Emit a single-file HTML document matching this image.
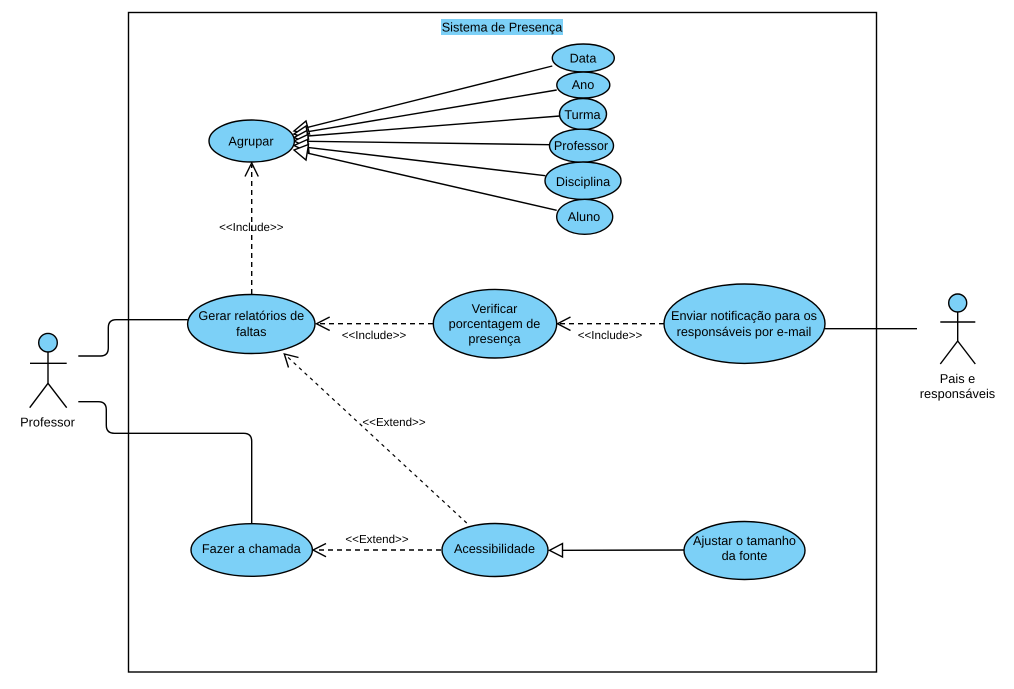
<!DOCTYPE html>
<html>
<head>
<meta charset="utf-8">
<style>
html,body{margin:0;padding:0;background:#fff;}
svg{display:block;}
text{font-family:"Liberation Sans",Arial,sans-serif;font-size:12.7px;fill:#000;text-anchor:middle;text-rendering:geometricPrecision;}
text.s{font-size:11.6px;}
text.c{font-size:12.8px;}
.e{fill:#7cd0f7;stroke:#000;stroke-width:1.4;}
.l{fill:none;stroke:#000;stroke-width:1.4;}
.d{fill:none;stroke:#000;stroke-width:1.4;stroke-dasharray:5 4;}
.f{fill:none;stroke:#000;stroke-width:1.2;stroke-dasharray:3.5 4;}
.a{fill:none;stroke:#000;stroke-width:1.4;}
.t{fill:#fff;stroke:#000;stroke-width:1.4;}
</style>
</head>
<body>
<svg width="1014" height="689" viewBox="0 0 1014 689" xmlns="http://www.w3.org/2000/svg">
<rect x="0" y="0" width="1014" height="689" fill="#fff"/>
<rect x="128.5" y="12.5" width="748" height="659.5" fill="none" stroke="#000" stroke-width="1.4"/>
<rect x="441" y="19" width="122" height="16" fill="#7cd0f7"/>
<text x="502" y="31.5">Sistema de Presença</text>

<!-- generalization lines -->
<g class="l">
<line x1="552.3" y1="66" x2="307.5" y2="127.4"/>
<line x1="556.7" y1="90" x2="307.8" y2="131.7"/>
<line x1="559.7" y1="116" x2="307.8" y2="136"/>
<line x1="549.3" y1="144.7" x2="307.8" y2="141.3"/>
<line x1="545.3" y1="175.7" x2="307.8" y2="147.4"/>
<line x1="556.7" y1="210.3" x2="307.8" y2="153.2"/>
<line x1="684" y1="550" x2="562.5" y2="550.3"/>
</g>
<g class="t">
<polygon points="294,131 306,121 309.5,134"/>
<polygon points="294,134 306,126 308.5,139"/>
<polygon points="294,137.5 307,130.5 308,143"/>
<polygon points="294,141 308,134.5 308,147.5"/>
<polygon points="294,145.5 307.5,139.5 309,152.5"/>
<polygon points="294,150 308.5,144.5 306,160"/>
<polygon points="549.5,550.4 562.5,543.5 562.5,557"/>
</g>

<!-- dashed lines -->
<line class="d" x1="251.7" y1="294" x2="251.7" y2="165"/>
<line class="d" x1="433" y1="323.7" x2="318" y2="323.7"/>
<line class="d" x1="664" y1="323.7" x2="559" y2="323.7"/>
<line class="d" x1="441" y1="550" x2="315" y2="550"/>
<line class="f" x1="466.7" y1="523" x2="286" y2="355.5"/>
<g class="a">
<polyline points="245,176.5 251.7,163 258.3,176.5"/>
<polyline points="329.7,317 316.5,323.7 329.7,330.5"/>
<polyline points="570.5,317 557.5,323.7 570.5,330.5"/>
<polyline points="326,543.5 313,550 326,556.8"/>
<polyline points="298.5,357.5 284.3,354 288.5,367.5"/>
</g>

<!-- actor connectors -->
<path class="l" d="M78.3 356H100.3Q108.3 356 108.3 348V327.7Q108.3 319.7 116.3 319.7H187.7"/>
<path class="l" d="M78.3 401.7H98.3Q106.3 401.7 106.3 409.7V425.3Q106.3 433.3 114.3 433.3H243.7Q251.7 433.3 251.7 441.3V523.7"/>
<line class="l" x1="825" y1="328.7" x2="917" y2="328.7"/>

<!-- use case ellipses -->
<ellipse class="e" cx="583.3" cy="58" rx="31" ry="14"/>
<text x="583" y="62.5">Data</text>
<ellipse class="e" cx="583.3" cy="85" rx="26.5" ry="13"/>
<text x="583" y="89">Ano</text>
<ellipse class="e" cx="583" cy="114" rx="23.5" ry="15.5"/>
<text x="582.5" y="119">Turma</text>
<ellipse class="e" cx="581.5" cy="145.7" rx="32" ry="16.5"/>
<text x="581" y="150">Professor</text>
<ellipse class="e" cx="583" cy="180.7" rx="38" ry="18.7"/>
<text x="583" y="186">Disciplina</text>
<ellipse class="e" cx="584.7" cy="216.8" rx="28" ry="17.5"/>
<text x="584" y="221">Aluno</text>
<ellipse class="e" cx="251.7" cy="141" rx="42.7" ry="21"/>
<text x="251" y="145.5">Agrupar</text>

<ellipse class="e" cx="251.3" cy="324" rx="63.7" ry="29.5"/>
<text x="251.3" y="320">Gerar relatórios de</text>
<text x="251.3" y="336">faltas</text>

<ellipse class="e" cx="495" cy="323.7" rx="61.7" ry="34.3"/>
<text x="494.5" y="313">Verificar</text>
<text x="494.5" y="328">porcentagem de</text>
<text x="494.5" y="343">presença</text>

<ellipse class="e" cx="744.5" cy="323.7" rx="80.5" ry="39.7"/>
<text x="744" y="320">Enviar notificação para os</text>
<text x="744" y="336">responsáveis por e-mail</text>

<ellipse class="e" cx="251.7" cy="550" rx="60.7" ry="26.3"/>
<text x="251.3" y="553">Fazer a chamada</text>

<ellipse class="e" cx="495" cy="550" rx="53" ry="26.5"/>
<text x="494.5" y="553">Acessibilidade</text>

<ellipse class="e" cx="744.5" cy="550.5" rx="60.5" ry="29"/>
<text x="744.5" y="545">Ajustar o tamanho</text>
<text x="744.5" y="560">da fonte</text>

<!-- labels -->
<text class="s" x="251.3" y="231">&lt;&lt;Include&gt;&gt;</text>
<text class="s" x="374" y="339">&lt;&lt;Include&gt;&gt;</text>
<text class="s" x="610" y="339">&lt;&lt;Include&gt;&gt;</text>
<text class="s" x="394" y="426">&lt;&lt;Extend&gt;&gt;</text>
<text class="s" x="377" y="543">&lt;&lt;Extend&gt;&gt;</text>

<!-- actors -->
<circle class="e" cx="48" cy="342.7" r="9.3"/>
<g class="l">
<line x1="48" y1="352" x2="48" y2="383.3"/>
<line x1="30" y1="363.3" x2="66.7" y2="363.3"/>
<polyline points="29.7,407.7 48,383.3 66.7,407.7"/>
</g>
<text class="c" x="47.5" y="426.5">Professor</text>

<circle class="e" cx="957.7" cy="303" r="9"/>
<g class="l">
<line x1="957.7" y1="312" x2="957.7" y2="341"/>
<line x1="940.3" y1="322" x2="975.3" y2="322"/>
<polyline points="940.3,364 957.7,341 975.3,364"/>
</g>
<text class="c" x="957.5" y="383">Pais e</text>
<text class="c" x="957.5" y="398">responsáveis</text>
</svg>
</body>
</html>
